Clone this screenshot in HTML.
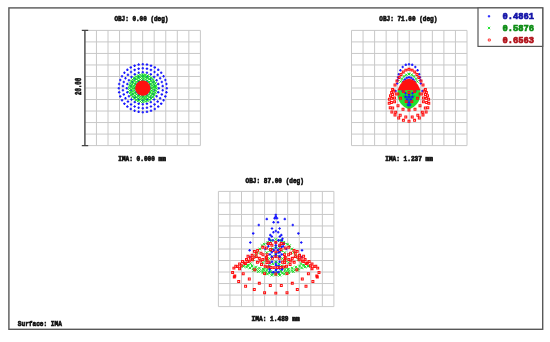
<!DOCTYPE html>
<html><head><meta charset="utf-8"><title>Spot Diagram</title>
<style>
html,body{margin:0;padding:0;background:#fff;}
svg{display:block;filter:blur(0.3px);}
text{font-family:"Liberation Mono",monospace;font-weight:bold;stroke-width:0.7;paint-order:stroke;}
</style></head>
<body>
<svg width="550" height="342" viewBox="0 0 550 342">
<rect width="550" height="342" fill="#fff"/>
<rect x="8.9" y="7.9" width="533.8" height="321.4" fill="none" stroke="#585858" stroke-width="1.4"/>
<rect x="478" y="7.9" width="64.7" height="38.5" fill="#fff" stroke="#585858" stroke-width="1.2"/>
<path d="M84.90 30.40V145.60M84.90 30.40H200.40M96.45 30.40V145.60M84.90 41.92H200.40M108.00 30.40V145.60M84.90 53.44H200.40M119.55 30.40V145.60M84.90 64.96H200.40M131.10 30.40V145.60M84.90 76.48H200.40M142.65 30.40V145.60M84.90 88.00H200.40M154.20 30.40V145.60M84.90 99.52H200.40M165.75 30.40V145.60M84.90 111.04H200.40M177.30 30.40V145.60M84.90 122.56H200.40M188.85 30.40V145.60M84.90 134.08H200.40M200.40 30.40V145.60M84.90 145.60H200.40" stroke="#c8c8c8" stroke-width="1" fill="none"/>
<path d="M84.9 30.4V145.6M81.8 30.4H88.2M81.8 145.6H88.2" stroke="#444" stroke-width="1.3" fill="none"/>
<path d="M141.55 84.20H144.05M142.80 82.95V85.45M138.09 86.20H140.59M139.34 84.95V87.45M138.09 90.20H140.59M139.34 88.95V91.45M141.55 92.20H144.05M142.80 90.95V93.45M145.01 90.20H147.51M146.26 88.95V91.45M145.01 86.20H147.51M146.26 84.95V87.45M141.55 80.20H144.05M142.80 78.95V81.45M137.55 81.27H140.05M138.80 80.02V82.52M134.62 84.20H137.12M135.87 82.95V85.45M133.55 88.20H136.05M134.80 86.95V89.45M134.62 92.20H137.12M135.87 90.95V93.45M137.55 95.13H140.05M138.80 93.88V96.38M141.55 96.20H144.05M142.80 94.95V97.45M145.55 95.13H148.05M146.80 93.88V96.38M148.48 92.20H150.98M149.73 90.95V93.45M149.55 88.20H152.05M150.80 86.95V89.45M148.48 84.20H150.98M149.73 82.95V85.45M145.55 81.27H148.05M146.80 80.02V82.52M141.55 76.20H144.05M142.80 74.95V77.45M137.45 76.92H139.95M138.70 75.67V78.17M133.84 79.01H136.34M135.09 77.76V80.26M131.16 82.20H133.66M132.41 80.95V83.45M129.73 86.12H132.23M130.98 84.87V87.37M129.73 90.28H132.23M130.98 89.03V91.53M131.16 94.20H133.66M132.41 92.95V95.45M133.84 97.39H136.34M135.09 96.14V98.64M137.45 99.48H139.95M138.70 98.23V100.73M141.55 100.20H144.05M142.80 98.95V101.45M145.65 99.48H148.15M146.90 98.23V100.73M149.26 97.39H151.76M150.51 96.14V98.64M151.94 94.20H154.44M153.19 92.95V95.45M153.37 90.28H155.87M154.62 89.03V91.53M153.37 86.12H155.87M154.62 84.87V87.37M151.94 82.20H154.44M153.19 80.95V83.45M149.26 79.01H151.76M150.51 77.76V80.26M145.65 76.92H148.15M146.90 75.67V78.17M141.55 72.20H144.05M142.80 70.95V73.45M137.41 72.75H139.91M138.66 71.50V74.00M133.55 74.34H136.05M134.80 73.09V75.59M130.24 76.89H132.74M131.49 75.64V78.14M127.69 80.20H130.19M128.94 78.95V81.45M126.10 84.06H128.60M127.35 82.81V85.31M125.55 88.20H128.05M126.80 86.95V89.45M126.10 92.34H128.60M127.35 91.09V93.59M127.69 96.20H130.19M128.94 94.95V97.45M130.24 99.51H132.74M131.49 98.26V100.76M133.55 102.06H136.05M134.80 100.81V103.31M137.41 103.65H139.91M138.66 102.40V104.90M141.55 104.20H144.05M142.80 102.95V105.45M145.69 103.65H148.19M146.94 102.40V104.90M149.55 102.06H152.05M150.80 100.81V103.31M152.86 99.51H155.36M154.11 98.26V100.76M155.41 96.20H157.91M156.66 94.95V97.45M157.00 92.34H159.50M158.25 91.09V93.59M157.55 88.20H160.05M158.80 86.95V89.45M157.00 84.06H159.50M158.25 82.81V85.31M155.41 80.20H157.91M156.66 78.95V81.45M152.86 76.89H155.36M154.11 75.64V78.14M149.55 74.34H152.05M150.80 73.09V75.59M145.69 72.75H148.19M146.94 71.50V74.00M141.55 68.20H144.05M142.80 66.95V69.45M137.39 68.64H139.89M138.64 67.39V69.89M133.42 69.93H135.92M134.67 68.68V71.18M129.79 72.02H132.29M131.04 70.77V73.27M126.69 74.82H129.19M127.94 73.57V76.07M124.23 78.20H126.73M125.48 76.95V79.45M122.53 82.02H125.03M123.78 80.77V83.27M121.66 86.11H124.16M122.91 84.86V87.36M121.66 90.29H124.16M122.91 89.04V91.54M122.53 94.38H125.03M123.78 93.13V95.63M124.23 98.20H126.73M125.48 96.95V99.45M126.69 101.58H129.19M127.94 100.33V102.83M129.79 104.38H132.29M131.04 103.13V105.63M133.42 106.47H135.92M134.67 105.22V107.72M137.39 107.76H139.89M138.64 106.51V109.01M141.55 108.20H144.05M142.80 106.95V109.45M145.71 107.76H148.21M146.96 106.51V109.01M149.68 106.47H152.18M150.93 105.22V107.72M153.31 104.38H155.81M154.56 103.13V105.63M156.41 101.58H158.91M157.66 100.33V102.83M158.87 98.20H161.37M160.12 96.95V99.45M160.57 94.38H163.07M161.82 93.13V95.63M161.44 90.29H163.94M162.69 89.04V91.54M161.44 86.11H163.94M162.69 84.86V87.36M160.57 82.02H163.07M161.82 80.77V83.27M158.87 78.20H161.37M160.12 76.95V79.45M156.41 74.82H158.91M157.66 73.57V76.07M153.31 72.02H155.81M154.56 70.77V73.27M149.68 69.93H152.18M150.93 68.68V71.18M145.71 68.64H148.21M146.96 67.39V69.89M141.55 64.20H144.05M142.80 62.95V65.45M137.38 64.56H139.88M138.63 63.31V65.81M133.34 65.65H135.84M134.59 64.40V66.90M129.55 67.42H132.05M130.80 66.17V68.67M126.12 69.81H128.62M127.37 68.56V71.06M123.16 72.77H125.66M124.41 71.52V74.02M120.77 76.20H123.27M122.02 74.95V77.45M119.00 79.99H121.50M120.25 78.74V81.24M117.91 84.03H120.41M119.16 82.78V85.28M117.55 88.20H120.05M118.80 86.95V89.45M117.91 92.37H120.41M119.16 91.12V93.62M119.00 96.41H121.50M120.25 95.16V97.66M120.77 100.20H123.27M122.02 98.95V101.45M123.16 103.63H125.66M124.41 102.38V104.88M126.12 106.59H128.62M127.37 105.34V107.84M129.55 108.98H132.05M130.80 107.73V110.23M133.34 110.75H135.84M134.59 109.50V112.00M137.38 111.84H139.88M138.63 110.59V113.09M141.55 112.20H144.05M142.80 110.95V113.45M145.72 111.84H148.22M146.97 110.59V113.09M149.76 110.75H152.26M151.01 109.50V112.00M153.55 108.98H156.05M154.80 107.73V110.23M156.98 106.59H159.48M158.23 105.34V107.84M159.94 103.63H162.44M161.19 102.38V104.88M162.33 100.20H164.83M163.58 98.95V101.45M164.10 96.41H166.60M165.35 95.16V97.66M165.19 92.37H167.69M166.44 91.12V93.62M165.55 88.20H168.05M166.80 86.95V89.45M165.19 84.03H167.69M166.44 82.78V85.28M164.10 79.99H166.60M165.35 78.74V81.24M162.33 76.20H164.83M163.58 74.95V77.45M159.94 72.77H162.44M161.19 71.52V74.02M156.98 69.81H159.48M158.23 68.56V71.06M153.55 67.42H156.05M154.80 66.17V68.67M149.76 65.65H152.26M151.01 64.40V66.90M145.72 64.56H148.22M146.97 63.31V65.81" stroke="#1818ff" stroke-width="1.15" fill="none"/>
<path d="M141.50 84.67L144.10 87.27M141.50 87.27L144.10 84.67M139.57 85.78L142.17 88.38M139.57 88.38L142.17 85.78M139.57 88.02L142.17 90.62M139.57 90.62L142.17 88.02M141.50 89.13L144.10 91.73M141.50 91.73L144.10 89.13M143.43 88.02L146.03 90.62M143.43 90.62L146.03 88.02M143.43 85.78L146.03 88.38M143.43 88.38L146.03 85.78M141.50 82.43L144.10 85.03M141.50 85.03L144.10 82.43M139.27 83.03L141.87 85.63M139.27 85.63L141.87 83.03M137.63 84.67L140.23 87.27M137.63 87.27L140.23 84.67M137.03 86.90L139.63 89.50M137.03 89.50L139.63 86.90M137.63 89.13L140.23 91.73M137.63 91.73L140.23 89.13M139.27 90.77L141.87 93.37M139.27 93.37L141.87 90.77M141.50 91.37L144.10 93.97M141.50 93.97L144.10 91.37M143.73 90.77L146.33 93.37M143.73 93.37L146.33 90.77M145.37 89.13L147.97 91.73M145.37 91.73L147.97 89.13M145.97 86.90L148.57 89.50M145.97 89.50L148.57 86.90M145.37 84.67L147.97 87.27M145.37 87.27L147.97 84.67M143.73 83.03L146.33 85.63M143.73 85.63L146.33 83.03M141.50 80.20L144.10 82.80M141.50 82.80L144.10 80.20M139.21 80.60L141.81 83.20M139.21 83.20L141.81 80.60M137.19 81.77L139.79 84.37M137.19 84.37L139.79 81.77M135.70 83.55L138.30 86.15M135.70 86.15L138.30 83.55M134.90 85.74L137.50 88.34M134.90 88.34L137.50 85.74M134.90 88.06L137.50 90.66M134.90 90.66L137.50 88.06M135.70 90.25L138.30 92.85M135.70 92.85L138.30 90.25M137.19 92.03L139.79 94.63M137.19 94.63L139.79 92.03M139.21 93.20L141.81 95.80M139.21 95.80L141.81 93.20M141.50 93.60L144.10 96.20M141.50 96.20L144.10 93.60M143.79 93.20L146.39 95.80M143.79 95.80L146.39 93.20M145.81 92.03L148.41 94.63M145.81 94.63L148.41 92.03M147.30 90.25L149.90 92.85M147.30 92.85L149.90 90.25M148.10 88.06L150.70 90.66M148.10 90.66L150.70 88.06M148.10 85.74L150.70 88.34M148.10 88.34L150.70 85.74M147.30 83.55L149.90 86.15M147.30 86.15L149.90 83.55M145.81 81.77L148.41 84.37M145.81 84.37L148.41 81.77M143.79 80.60L146.39 83.20M143.79 83.20L146.39 80.60M141.50 77.97L144.10 80.57M141.50 80.57L144.10 77.97M139.19 78.27L141.79 80.87M139.19 80.87L141.79 78.27M137.03 79.16L139.63 81.76M137.03 81.76L139.63 79.16M135.18 80.58L137.78 83.18M135.18 83.18L137.78 80.58M133.76 82.43L136.36 85.03M133.76 85.03L136.36 82.43M132.87 84.59L135.47 87.19M132.87 87.19L135.47 84.59M132.57 86.90L135.17 89.50M132.57 89.50L135.17 86.90M132.87 89.21L135.47 91.81M132.87 91.81L135.47 89.21M133.76 91.37L136.36 93.97M133.76 93.97L136.36 91.37M135.18 93.22L137.78 95.82M135.18 95.82L137.78 93.22M137.03 94.64L139.63 97.24M137.03 97.24L139.63 94.64M139.19 95.53L141.79 98.13M139.19 98.13L141.79 95.53M141.50 95.83L144.10 98.43M141.50 98.43L144.10 95.83M143.81 95.53L146.41 98.13M143.81 98.13L146.41 95.53M145.97 94.64L148.57 97.24M145.97 97.24L148.57 94.64M147.82 93.22L150.42 95.82M147.82 95.82L150.42 93.22M149.24 91.37L151.84 93.97M149.24 93.97L151.84 91.37M150.13 89.21L152.73 91.81M150.13 91.81L152.73 89.21M150.43 86.90L153.03 89.50M150.43 89.50L153.03 86.90M150.13 84.59L152.73 87.19M150.13 87.19L152.73 84.59M149.24 82.43L151.84 85.03M149.24 85.03L151.84 82.43M147.82 80.58L150.42 83.18M147.82 83.18L150.42 80.58M145.97 79.16L148.57 81.76M145.97 81.76L148.57 79.16M143.81 78.27L146.41 80.87M143.81 80.87L146.41 78.27M141.50 75.73L144.10 78.33M141.50 78.33L144.10 75.73M139.18 75.98L141.78 78.58M139.18 78.58L141.78 75.98M136.96 76.70L139.56 79.30M136.96 79.30L139.56 76.70M134.94 77.87L137.54 80.47M134.94 80.47L137.54 77.87M133.20 79.43L135.80 82.03M133.20 82.03L135.80 79.43M131.83 81.32L134.43 83.92M131.83 83.92L134.43 81.32M130.88 83.45L133.48 86.05M130.88 86.05L133.48 83.45M130.39 85.73L132.99 88.33M130.39 88.33L132.99 85.73M130.39 88.07L132.99 90.67M130.39 90.67L132.99 88.07M130.88 90.35L133.48 92.95M130.88 92.95L133.48 90.35M131.83 92.48L134.43 95.08M131.83 95.08L134.43 92.48M133.20 94.37L135.80 96.97M133.20 96.97L135.80 94.37M134.94 95.93L137.54 98.53M134.94 98.53L137.54 95.93M136.96 97.10L139.56 99.70M136.96 99.70L139.56 97.10M139.18 97.82L141.78 100.42M139.18 100.42L141.78 97.82M141.50 98.07L144.10 100.67M141.50 100.67L144.10 98.07M143.82 97.82L146.42 100.42M143.82 100.42L146.42 97.82M146.04 97.10L148.64 99.70M146.04 99.70L148.64 97.10M148.06 95.93L150.66 98.53M148.06 98.53L150.66 95.93M149.80 94.37L152.40 96.97M149.80 96.97L152.40 94.37M151.17 92.48L153.77 95.08M151.17 95.08L153.77 92.48M152.12 90.35L154.72 92.95M152.12 92.95L154.72 90.35M152.61 88.07L155.21 90.67M152.61 90.67L155.21 88.07M152.61 85.73L155.21 88.33M152.61 88.33L155.21 85.73M152.12 83.45L154.72 86.05M152.12 86.05L154.72 83.45M151.17 81.32L153.77 83.92M151.17 83.92L153.77 81.32M149.80 79.43L152.40 82.03M149.80 82.03L152.40 79.43M148.06 77.87L150.66 80.47M148.06 80.47L150.66 77.87M146.04 76.70L148.64 79.30M146.04 79.30L148.64 76.70M143.82 75.98L146.42 78.58M143.82 78.58L146.42 75.98M141.50 73.50L144.10 76.10M141.50 76.10L144.10 73.50M139.17 73.70L141.77 76.30M139.17 76.30L141.77 73.70M136.92 74.31L139.52 76.91M136.92 76.91L139.52 74.31M134.80 75.30L137.40 77.90M134.80 77.90L137.40 75.30M132.89 76.64L135.49 79.24M132.89 79.24L135.49 76.64M131.24 78.29L133.84 80.89M131.24 80.89L133.84 78.29M129.90 80.20L132.50 82.80M129.90 82.80L132.50 80.20M128.91 82.32L131.51 84.92M128.91 84.92L131.51 82.32M128.30 84.57L130.90 87.17M128.30 87.17L130.90 84.57M128.10 86.90L130.70 89.50M128.10 89.50L130.70 86.90M128.30 89.23L130.90 91.83M128.30 91.83L130.90 89.23M128.91 91.48L131.51 94.08M128.91 94.08L131.51 91.48M129.90 93.60L132.50 96.20M129.90 96.20L132.50 93.60M131.24 95.51L133.84 98.11M131.24 98.11L133.84 95.51M132.89 97.16L135.49 99.76M132.89 99.76L135.49 97.16M134.80 98.50L137.40 101.10M134.80 101.10L137.40 98.50M136.92 99.49L139.52 102.09M136.92 102.09L139.52 99.49M139.17 100.10L141.77 102.70M139.17 102.70L141.77 100.10M141.50 100.30L144.10 102.90M141.50 102.90L144.10 100.30M143.83 100.10L146.43 102.70M143.83 102.70L146.43 100.10M146.08 99.49L148.68 102.09M146.08 102.09L148.68 99.49M148.20 98.50L150.80 101.10M148.20 101.10L150.80 98.50M150.11 97.16L152.71 99.76M150.11 99.76L152.71 97.16M151.76 95.51L154.36 98.11M151.76 98.11L154.36 95.51M153.10 93.60L155.70 96.20M153.10 96.20L155.70 93.60M154.09 91.48L156.69 94.08M154.09 94.08L156.69 91.48M154.70 89.23L157.30 91.83M154.70 91.83L157.30 89.23M154.90 86.90L157.50 89.50M154.90 89.50L157.50 86.90M154.70 84.57L157.30 87.17M154.70 87.17L157.30 84.57M154.09 82.32L156.69 84.92M154.09 84.92L156.69 82.32M153.10 80.20L155.70 82.80M153.10 82.80L155.70 80.20M151.76 78.29L154.36 80.89M151.76 80.89L154.36 78.29M150.11 76.64L152.71 79.24M150.11 79.24L152.71 76.64M148.20 75.30L150.80 77.90M148.20 77.90L150.80 75.30M146.08 74.31L148.68 76.91M146.08 76.91L148.68 74.31M143.83 73.70L146.43 76.30M143.83 76.30L146.43 73.70" stroke="#10e020" stroke-width="0.95" fill="none"/>
<circle cx="142.8" cy="88.2" r="7.6" fill="#ff1010"/>
<text x="141.4" y="21.1" font-size="8.0" fill="#111" stroke="#111" text-anchor="middle" textLength="54" lengthAdjust="spacingAndGlyphs" >OBJ: 0.00 (deg)</text>
<text x="142.1" y="160.6" font-size="8.0" fill="#111" stroke="#111" text-anchor="middle" textLength="47.6" lengthAdjust="spacingAndGlyphs" >IMA: 0.000 mm</text>
<text transform="translate(81.4,86.4) rotate(-90)" font-size="9" fill="#111" stroke="#111" text-anchor="middle" textLength="17" lengthAdjust="spacingAndGlyphs">20.00</text>
<path d="M351.50 30.40V145.60M351.50 30.40H467.00M363.05 30.40V145.60M351.50 41.92H467.00M374.60 30.40V145.60M351.50 53.44H467.00M386.15 30.40V145.60M351.50 64.96H467.00M397.70 30.40V145.60M351.50 76.48H467.00M409.25 30.40V145.60M351.50 88.00H467.00M420.80 30.40V145.60M351.50 99.52H467.00M432.35 30.40V145.60M351.50 111.04H467.00M443.90 30.40V145.60M351.50 122.56H467.00M455.45 30.40V145.60M351.50 134.08H467.00M467.00 30.40V145.60M351.50 145.60H467.00" stroke="#c8c8c8" stroke-width="1" fill="none"/>
<text x="408.3" y="21.1" font-size="8.0" fill="#111" stroke="#111" text-anchor="middle" textLength="58" lengthAdjust="spacingAndGlyphs" >OBJ: 71.00 (deg)</text>
<text x="409.1" y="160.6" font-size="8.0" fill="#111" stroke="#111" text-anchor="middle" textLength="47.6" lengthAdjust="spacingAndGlyphs" >IMA: 1.237 mm</text>
<path d="M407.75 64.20H410.25M409.00 62.95V65.45M410.95 64.80H413.45M412.20 63.55V66.05M404.55 64.80H407.05M405.80 63.55V66.05M414.05 67.00H416.55M415.30 65.75V68.25M401.45 67.00H403.95M402.70 65.75V68.25M416.35 70.30H418.85M417.60 69.05V71.55M399.15 70.30H401.65M400.40 69.05V71.55M417.95 74.20H420.45M419.20 72.95V75.45M397.55 74.20H400.05M398.80 72.95V75.45M418.65 77.30H421.15M419.90 76.05V78.55M396.85 77.30H399.35M398.10 76.05V78.55M419.15 80.30H421.65M420.40 79.05V81.55M396.35 80.30H398.85M397.60 79.05V81.55M419.55 83.50H422.05M420.80 82.25V84.75M395.95 83.50H398.45M397.20 82.25V84.75M407.75 77.30H410.25M409.00 76.05V78.55M409.95 77.90H412.45M411.20 76.65V79.15M405.55 77.90H408.05M406.80 76.65V79.15M411.95 79.40H414.45M413.20 78.15V80.65M403.55 79.40H406.05M404.80 78.15V80.65M413.35 81.50H415.85M414.60 80.25V82.75M402.15 81.50H404.65M403.40 80.25V82.75M414.25 91.00H416.75M415.50 89.75V92.25M401.25 91.00H403.75M402.50 89.75V92.25M421.05 91.00H423.55M422.30 89.75V92.25M394.45 91.00H396.95M395.70 89.75V92.25M402.55 96.00H405.05M403.80 94.75V97.25M404.63 96.00H407.13M405.88 94.75V97.25M406.71 96.00H409.21M407.96 94.75V97.25M408.79 96.00H411.29M410.04 94.75V97.25M410.87 96.00H413.37M412.12 94.75V97.25M412.95 96.00H415.45M414.20 94.75V97.25M403.50 98.20H406.00M404.75 96.95V99.45M405.63 98.20H408.13M406.88 96.95V99.45M407.75 98.20H410.25M409.00 96.95V99.45M409.87 98.20H412.37M411.12 96.95V99.45M412.00 98.20H414.50M413.25 96.95V99.45M404.46 100.40H406.96M405.71 99.15V101.65M406.65 100.40H409.15M407.90 99.15V101.65M408.85 100.40H411.35M410.10 99.15V101.65M411.04 100.40H413.54M412.29 99.15V101.65M405.41 102.60H407.91M406.66 101.35V103.85M407.75 102.60H410.25M409.00 101.35V103.85M410.09 102.60H412.59M411.34 101.35V103.85M406.36 104.80H408.86M407.61 103.55V106.05M409.14 104.80H411.64M410.39 103.55V106.05M407.75 107.00H410.25M409.00 105.75V108.25" stroke="#1818ff" stroke-width="1.15" fill="none"/>
<path d="M404.4 95.6 L413.6 95.6 L409 107.6Z" fill="#1818ff" opacity="0.8"/>
<path d="M397.8 89.5 L397.7 96.5 Q398.6 102.5 403.5 106.3 Q407 109 409 109.4 Q411 109 414.5 106.3 Q419.4 102.5 420.3 96.5 L420.2 89.5Z" fill="#10e020" opacity="0.92"/>
<path d="M407.70 72.70L410.30 75.30M407.70 75.30L410.30 72.70M410.40 73.50L413.00 76.10M410.40 76.10L413.00 73.50M405.00 73.50L407.60 76.10M405.00 76.10L407.60 73.50M412.70 75.10L415.30 77.70M412.70 77.70L415.30 75.10M402.70 75.10L405.30 77.70M402.70 77.70L405.30 75.10M414.70 77.40L417.30 80.00M414.70 80.00L417.30 77.40M400.70 77.40L403.30 80.00M400.70 80.00L403.30 77.40M416.00 80.20L418.60 82.80M416.00 82.80L418.60 80.20M399.40 80.20L402.00 82.80M399.40 82.80L402.00 80.20" stroke="#10e020" stroke-width="0.95" fill="none"/>
<path d="M404.6 96 L413.4 96 L409 107.2Z" fill="#1818ff" opacity="0.5"/>
<path d="M404.25 96.80H406.75M405.50 95.55V98.05M407.75 96.80H410.25M409.00 95.55V98.05M411.25 96.80H413.75M412.50 95.55V98.05M405.75 99.80H408.25M407.00 98.55V101.05M409.75 99.80H412.25M411.00 98.55V101.05M407.75 102.60H410.25M409.00 101.35V103.85M406.75 105.00H409.25M408.00 103.75V106.25M408.75 105.00H411.25M410.00 103.75V106.25" stroke="#1818ff" stroke-width="1.15" fill="none"/>
<path d="M401.35 91.00H403.85M402.60 89.75V92.25M414.15 91.00H416.65M415.40 89.75V92.25M404.25 93.20H406.75M405.50 91.95V94.45M411.25 93.20H413.75M412.50 91.95V94.45M407.75 94.50H410.25M409.00 93.25V95.75" stroke="#1818ff" stroke-width="1.15" fill="none"/>
<path d="M397.5 90.2 Q399.5 84.5 403 81.3 Q406 78.8 409 78.8 Q412 78.8 415 81.3 Q418.5 84.5 420.5 90.2Z" fill="#ff1010"/>
<path d="M408.05 68.35h1.90v1.90h-1.90zM411.15 69.15h1.90v1.90h-1.90zM404.95 69.15h1.90v1.90h-1.90zM413.85 70.95h1.90v1.90h-1.90zM402.25 70.95h1.90v1.90h-1.90zM416.05 73.55h1.90v1.90h-1.90zM400.05 73.55h1.90v1.90h-1.90zM417.95 76.55h1.90v1.90h-1.90zM398.15 76.55h1.90v1.90h-1.90zM420.05 80.05h1.90v1.90h-1.90zM396.05 80.05h1.90v1.90h-1.90zM422.05 84.05h1.90v1.90h-1.90zM394.05 84.05h1.90v1.90h-1.90zM424.45 88.55h1.90v1.90h-1.90zM391.65 88.55h1.90v1.90h-1.90zM425.45 91.45h1.90v1.90h-1.90zM390.65 91.45h1.90v1.90h-1.90zM426.55 94.75h1.90v1.90h-1.90zM389.55 94.75h1.90v1.90h-1.90zM427.65 98.25h1.90v1.90h-1.90zM388.45 98.25h1.90v1.90h-1.90zM427.85 102.35h1.90v1.90h-1.90zM388.25 102.35h1.90v1.90h-1.90zM426.85 106.75h1.90v1.90h-1.90zM389.25 106.75h1.90v1.90h-1.90zM425.15 111.05h1.90v1.90h-1.90zM390.95 111.05h1.90v1.90h-1.90zM422.05 114.05h1.90v1.90h-1.90zM394.05 114.05h1.90v1.90h-1.90zM418.35 117.05h1.90v1.90h-1.90zM397.75 117.05h1.90v1.90h-1.90zM413.65 119.35h1.90v1.90h-1.90zM402.45 119.35h1.90v1.90h-1.90zM408.05 120.25h1.90v1.90h-1.90zM423.25 90.05h1.90v1.90h-1.90zM392.85 90.05h1.90v1.90h-1.90zM424.55 93.55h1.90v1.90h-1.90zM391.55 93.55h1.90v1.90h-1.90zM425.35 97.35h1.90v1.90h-1.90zM390.75 97.35h1.90v1.90h-1.90zM425.65 101.55h1.90v1.90h-1.90zM390.45 101.55h1.90v1.90h-1.90zM424.35 107.05h1.90v1.90h-1.90zM391.75 107.05h1.90v1.90h-1.90zM421.35 111.15h1.90v1.90h-1.90zM394.75 111.15h1.90v1.90h-1.90zM416.85 114.25h1.90v1.90h-1.90zM399.25 114.25h1.90v1.90h-1.90zM411.25 116.05h1.90v1.90h-1.90zM404.85 116.05h1.90v1.90h-1.90zM420.85 93.05h1.90v1.90h-1.90zM395.25 93.05h1.90v1.90h-1.90zM422.45 97.05h1.90v1.90h-1.90zM393.65 97.05h1.90v1.90h-1.90zM422.45 100.85h1.90v1.90h-1.90zM393.65 100.85h1.90v1.90h-1.90zM419.05 104.75h1.90v1.90h-1.90zM397.05 104.75h1.90v1.90h-1.90zM414.05 108.25h1.90v1.90h-1.90zM402.05 108.25h1.90v1.90h-1.90zM408.05 109.05h1.90v1.90h-1.90zM419.15 93.05h1.90v1.90h-1.90zM396.95 93.05h1.90v1.90h-1.90zM416.55 97.35h1.90v1.90h-1.90zM399.55 97.35h1.90v1.90h-1.90zM413.55 90.65h1.90v1.90h-1.90zM402.55 90.65h1.90v1.90h-1.90zM408.05 91.45h1.90v1.90h-1.90zM410.85 100.65h1.90v1.90h-1.90zM405.25 100.65h1.90v1.90h-1.90z" stroke="#ff1010" stroke-width="1.05" fill="none"/>
<path d="M218.40 191.40V306.60M218.40 191.40H333.90M229.95 191.40V306.60M218.40 202.92H333.90M241.50 191.40V306.60M218.40 214.44H333.90M253.05 191.40V306.60M218.40 225.96H333.90M264.60 191.40V306.60M218.40 237.48H333.90M276.15 191.40V306.60M218.40 249.00H333.90M287.70 191.40V306.60M218.40 260.52H333.90M299.25 191.40V306.60M218.40 272.04H333.90M310.80 191.40V306.60M218.40 283.56H333.90M322.35 191.40V306.60M218.40 295.08H333.90M333.90 191.40V306.60M218.40 306.60H333.90" stroke="#c8c8c8" stroke-width="1" fill="none"/>
<text x="274.7" y="182.7" font-size="8.0" fill="#111" stroke="#111" text-anchor="middle" textLength="58.4" lengthAdjust="spacingAndGlyphs" >OBJ: 87.00 (deg)</text>
<text x="275.6" y="320.8" font-size="8.0" fill="#111" stroke="#111" text-anchor="middle" textLength="48" lengthAdjust="spacingAndGlyphs" >IMA: 1.489 mm</text>
<path d="M274.55 214.90H277.05M275.80 213.65V216.15M274.55 216.60H277.05M275.80 215.35V217.85M274.55 218.00H277.05M275.80 216.75V219.25M275.85 218.20H278.35M277.10 216.95V219.45M273.25 218.20H275.75M274.50 216.95V219.45M283.55 219.10H286.05M284.80 217.85V220.35M265.55 219.10H268.05M266.80 217.85V220.35M291.55 225.00H294.05M292.80 223.75V226.25M257.55 225.00H260.05M258.80 223.75V226.25M297.15 233.40H299.65M298.40 232.15V234.65M251.95 233.40H254.45M253.20 232.15V234.65M300.05 242.50H302.55M301.30 241.25V243.75M249.05 242.50H251.55M250.30 241.25V243.75M300.75 250.30H303.25M302.00 249.05V251.55M248.35 250.30H250.85M249.60 249.05V251.55M300.55 257.00H303.05M301.80 255.75V258.25M248.55 257.00H251.05M249.80 255.75V258.25M276.75 222.30H279.25M278.00 221.05V223.55M272.35 222.30H274.85M273.60 221.05V223.55M278.35 228.50H280.85M279.60 227.25V229.75M270.75 228.50H273.25M272.00 227.25V229.75M280.05 235.10H282.55M281.30 233.85V236.35M269.05 235.10H271.55M270.30 233.85V236.35M281.25 238.70H283.75M282.50 237.45V239.95M267.85 238.70H270.35M269.10 237.45V239.95M283.05 243.50H285.55M284.30 242.25V244.75M266.05 243.50H268.55M267.30 242.25V244.75M285.05 249.00H287.55M286.30 247.75V250.25M264.05 249.00H266.55M265.30 247.75V250.25M274.55 231.00H277.05M275.80 229.75V232.25M276.95 232.20H279.45M278.20 230.95V233.45M272.15 232.20H274.65M273.40 230.95V233.45M278.55 236.50H281.05M279.80 235.25V237.75M270.55 236.50H273.05M271.80 235.25V237.75M279.55 240.50H282.05M280.80 239.25V241.75M269.55 240.50H272.05M270.80 239.25V241.75M268.20 239.84H270.70M269.45 238.59V241.09M277.17 240.40H279.67M278.42 239.15V241.65M280.63 240.59H283.13M281.88 239.34V241.84M274.72 242.78H277.22M275.97 241.53V244.03M278.06 246.51H280.56M279.31 245.26V247.76M280.39 246.84H282.89M281.64 245.59V248.09M275.07 253.25H277.57M276.32 252.00V254.50M277.31 252.46H279.81M278.56 251.21V253.71M274.56 255.86H277.06M275.81 254.61V257.11M277.85 256.10H280.35M279.10 254.85V257.35M268.58 262.96H271.08M269.83 261.71V264.21M274.81 262.05H277.31M276.06 260.80V263.30M267.63 266.02H270.13M268.88 264.77V267.27M274.91 265.49H277.41M276.16 264.24V266.74M277.50 265.92H280.00M278.75 264.67V267.17M268.29 268.25H270.79M269.54 267.00V269.50M275.01 269.38H277.51M276.26 268.13V270.63M278.35 268.57H280.85M279.60 267.32V269.82M281.07 268.24H283.57M282.32 266.99V269.49M268.04 272.13H270.54M269.29 270.88V273.38M270.80 272.44H273.30M272.05 271.19V273.69M275.10 272.48H277.60M276.35 271.23V273.73M277.70 272.02H280.20M278.95 270.77V273.27" stroke="#1818ff" stroke-width="1.15" fill="none"/>
<path d="M274.50 238.20L277.10 240.80M274.50 240.80L277.10 238.20M278.50 239.20L281.10 241.80M278.50 241.80L281.10 239.20M270.50 239.20L273.10 241.80M270.50 241.80L273.10 239.20M282.50 241.00L285.10 243.60M282.50 243.60L285.10 241.00M266.50 241.00L269.10 243.60M266.50 243.60L269.10 241.00M286.00 242.90L288.60 245.50M286.00 245.50L288.60 242.90M263.00 242.90L265.60 245.50M263.00 245.50L265.60 242.90M288.30 244.30L290.90 246.90M288.30 246.90L290.90 244.30M260.70 244.30L263.30 246.90M260.70 246.90L263.30 244.30M290.50 247.70L293.10 250.30M290.50 250.30L293.10 247.70M258.50 247.70L261.10 250.30M258.50 250.30L261.10 247.70M292.50 251.20L295.10 253.80M292.50 253.80L295.10 251.20M256.50 251.20L259.10 253.80M256.50 253.80L259.10 251.20M294.50 254.20L297.10 256.80M294.50 256.80L297.10 254.20M254.50 254.20L257.10 256.80M254.50 256.80L257.10 254.20M297.00 258.20L299.60 260.80M297.00 260.80L299.60 258.20M252.00 258.20L254.60 260.80M252.00 260.80L254.60 258.20M299.70 262.30L302.30 264.90M299.70 264.90L302.30 262.30M249.30 262.30L251.90 264.90M249.30 264.90L251.90 262.30M303.00 264.00L305.60 266.60M303.00 266.60L305.60 264.00M246.00 264.00L248.60 266.60M246.00 266.60L248.60 264.00M306.80 264.90L309.40 267.50M306.80 267.50L309.40 264.90M242.20 264.90L244.80 267.50M242.20 267.50L244.80 264.90M306.80 264.90L309.40 267.50M306.80 267.50L309.40 264.90M242.20 264.90L244.80 267.50M242.20 267.50L244.80 264.90M303.57 265.77L306.17 268.37M303.57 268.37L306.17 265.77M245.43 265.77L248.03 268.37M245.43 268.37L248.03 265.77M300.34 266.64L302.94 269.24M300.34 269.24L302.94 266.64M248.66 266.64L251.26 269.24M248.66 269.24L251.26 266.64M297.11 267.51L299.71 270.11M297.11 270.11L299.71 267.51M251.89 267.51L254.49 270.11M251.89 270.11L254.49 267.51M293.88 268.38L296.48 270.98M293.88 270.98L296.48 268.38M255.12 268.38L257.72 270.98M255.12 270.98L257.72 268.38M290.65 269.25L293.25 271.85M290.65 271.85L293.25 269.25M258.35 269.25L260.95 271.85M258.35 271.85L260.95 269.25M287.42 270.12L290.02 272.72M287.42 272.72L290.02 270.12M261.58 270.12L264.18 272.72M261.58 272.72L264.18 270.12M284.19 270.99L286.79 273.59M284.19 273.59L286.79 270.99M264.81 270.99L267.41 273.59M264.81 273.59L267.41 270.99M280.96 271.86L283.56 274.46M280.96 274.46L283.56 271.86M268.04 271.86L270.64 274.46M268.04 274.46L270.64 271.86M277.73 272.73L280.33 275.33M277.73 275.33L280.33 272.73M271.27 272.73L273.87 275.33M271.27 275.33L273.87 272.73M274.50 273.60L277.10 276.20M274.50 276.20L277.10 273.60M302.00 263.70L304.60 266.30M302.00 266.30L304.60 263.70M247.00 263.70L249.60 266.30M247.00 266.30L249.60 263.70M298.30 264.73L300.90 267.33M298.30 267.33L300.90 264.73M250.70 264.73L253.30 267.33M250.70 267.33L253.30 264.73M294.60 265.76L297.20 268.36M294.60 268.36L297.20 265.76M254.40 265.76L257.00 268.36M254.40 268.36L257.00 265.76M290.90 266.79L293.50 269.39M290.90 269.39L293.50 266.79M258.10 266.79L260.70 269.39M258.10 269.39L260.70 266.79M287.20 267.81L289.80 270.41M287.20 270.41L289.80 267.81M261.80 267.81L264.40 270.41M261.80 270.41L264.40 267.81M283.50 268.84L286.10 271.44M283.50 271.44L286.10 268.84M265.50 268.84L268.10 271.44M265.50 271.44L268.10 268.84M279.80 269.87L282.40 272.47M279.80 272.47L282.40 269.87M269.20 269.87L271.80 272.47M269.20 272.47L271.80 269.87M276.10 270.90L278.70 273.50M276.10 273.50L278.70 270.90M272.90 270.90L275.50 273.50M272.90 273.50L275.50 270.90M296.50 269.10L299.10 271.70M296.50 271.70L299.10 269.10M252.50 269.10L255.10 271.70M252.50 271.70L255.10 269.10M292.00 270.30L294.60 272.90M292.00 272.90L294.60 270.30M257.00 270.30L259.60 272.90M257.00 272.90L259.60 270.30M287.50 271.50L290.10 274.10M287.50 274.10L290.10 271.50M261.50 271.50L264.10 274.10M261.50 274.10L264.10 271.50M283.00 272.70L285.60 275.30M283.00 275.30L285.60 272.70M266.00 272.70L268.60 275.30M266.00 275.30L268.60 272.70M278.50 273.90L281.10 276.50M278.50 276.50L281.10 273.90M270.50 273.90L273.10 276.50M270.50 276.50L273.10 273.90M274.50 245.70L277.10 248.30M274.50 248.30L277.10 245.70M277.50 247.56L280.10 250.16M277.50 250.16L280.10 247.56M271.50 247.56L274.10 250.16M271.50 250.16L274.10 247.56M280.50 249.42L283.10 252.02M280.50 252.02L283.10 249.42M268.50 249.42L271.10 252.02M268.50 252.02L271.10 249.42M283.50 251.28L286.10 253.88M283.50 253.88L286.10 251.28M265.50 251.28L268.10 253.88M265.50 253.88L268.10 251.28M274.50 253.20L277.10 255.80M274.50 255.80L277.10 253.20M277.75 255.21L280.35 257.81M277.75 257.81L280.35 255.21M271.25 255.21L273.85 257.81M271.25 257.81L273.85 255.21M281.00 257.23L283.60 259.83M281.00 259.83L283.60 257.23M268.00 257.23L270.60 259.83M268.00 259.83L270.60 257.23M284.25 259.25L286.85 261.85M284.25 261.85L286.85 259.25M264.75 259.25L267.35 261.85M264.75 261.85L267.35 259.25M287.50 261.26L290.10 263.86M287.50 263.86L290.10 261.26M261.50 261.26L264.10 263.86M261.50 263.86L264.10 261.26M274.50 260.70L277.10 263.30M274.50 263.30L277.10 260.70M277.50 262.56L280.10 265.16M277.50 265.16L280.10 262.56M271.50 262.56L274.10 265.16M271.50 265.16L274.10 262.56M280.50 264.42L283.10 267.02M280.50 267.02L283.10 264.42M268.50 264.42L271.10 267.02M268.50 267.02L271.10 264.42M283.50 266.28L286.10 268.88M283.50 268.88L286.10 266.28M265.50 266.28L268.10 268.88M265.50 268.88L268.10 266.28M286.50 268.14L289.10 270.74M286.50 270.74L289.10 268.14M262.50 268.14L265.10 270.74M262.50 270.74L265.10 268.14" stroke="#10e020" stroke-width="0.95" fill="none"/>
<path d="M318.05 271.45h1.90v1.90h-1.90zM231.65 271.45h1.90v1.90h-1.90zM316.75 267.15h1.90v1.90h-1.90zM232.95 267.15h1.90v1.90h-1.90zM314.85 265.25h1.90v1.90h-1.90zM234.85 265.25h1.90v1.90h-1.90zM311.05 263.05h1.90v1.90h-1.90zM238.65 263.05h1.90v1.90h-1.90zM308.15 260.55h1.90v1.90h-1.90zM241.55 260.55h1.90v1.90h-1.90zM304.15 258.45h1.90v1.90h-1.90zM245.55 258.45h1.90v1.90h-1.90zM302.65 255.25h1.90v1.90h-1.90zM247.05 255.25h1.90v1.90h-1.90zM298.55 254.35h1.90v1.90h-1.90zM251.15 254.35h1.90v1.90h-1.90zM296.25 250.45h1.90v1.90h-1.90zM253.45 250.45h1.90v1.90h-1.90zM293.05 249.45h1.90v1.90h-1.90zM256.65 249.45h1.90v1.90h-1.90zM287.85 246.35h1.90v1.90h-1.90zM261.85 246.35h1.90v1.90h-1.90zM284.25 247.05h1.90v1.90h-1.90zM265.45 247.05h1.90v1.90h-1.90zM311.05 267.85h1.90v1.90h-1.90zM238.65 267.85h1.90v1.90h-1.90zM305.25 262.65h1.90v1.90h-1.90zM244.45 262.65h1.90v1.90h-1.90zM301.35 260.15h1.90v1.90h-1.90zM248.35 260.15h1.90v1.90h-1.90zM298.15 258.85h1.90v1.90h-1.90zM251.55 258.85h1.90v1.90h-1.90zM294.35 255.65h1.90v1.90h-1.90zM255.35 255.65h1.90v1.90h-1.90zM293.25 261.35h1.90v1.90h-1.90zM256.45 261.35h1.90v1.90h-1.90zM289.15 263.55h1.90v1.90h-1.90zM260.55 263.55h1.90v1.90h-1.90zM287.85 258.45h1.90v1.90h-1.90zM261.85 258.45h1.90v1.90h-1.90zM295.85 268.75h1.90v1.90h-1.90zM253.85 268.75h1.90v1.90h-1.90zM286.05 272.65h1.90v1.90h-1.90zM263.65 272.65h1.90v1.90h-1.90zM274.85 273.05h1.90v1.90h-1.90zM289.65 252.25h1.90v1.90h-1.90zM260.05 252.25h1.90v1.90h-1.90zM284.35 256.55h1.90v1.90h-1.90zM265.35 256.55h1.90v1.90h-1.90zM283.65 259.85h1.90v1.90h-1.90zM266.05 259.85h1.90v1.90h-1.90zM282.45 242.65h1.90v1.90h-1.90zM267.25 242.65h1.90v1.90h-1.90zM280.25 242.55h1.90v1.90h-1.90zM269.45 242.55h1.90v1.90h-1.90zM278.75 244.25h1.90v1.90h-1.90zM270.95 244.25h1.90v1.90h-1.90zM274.85 241.45h1.90v1.90h-1.90zM281.65 261.25h1.90v1.90h-1.90zM268.05 261.25h1.90v1.90h-1.90zM285.55 265.25h1.90v1.90h-1.90zM264.15 265.25h1.90v1.90h-1.90zM282.65 266.05h1.90v1.90h-1.90zM267.05 266.05h1.90v1.90h-1.90zM279.75 266.55h1.90v1.90h-1.90zM269.95 266.55h1.90v1.90h-1.90zM276.55 266.65h1.90v1.90h-1.90zM273.15 266.65h1.90v1.90h-1.90zM283.45 253.65h1.90v1.90h-1.90zM266.25 253.65h1.90v1.90h-1.90zM274.85 250.95h1.90v1.90h-1.90zM278.25 257.35h1.90v1.90h-1.90zM271.45 257.35h1.90v1.90h-1.90zM274.85 255.55h1.90v1.90h-1.90zM278.15 249.55h1.90v1.90h-1.90zM271.55 249.55h1.90v1.90h-1.90zM313.25 265.65h1.90v1.90h-1.90zM236.45 265.65h1.90v1.90h-1.90zM309.45 264.85h1.90v1.90h-1.90zM240.25 264.85h1.90v1.90h-1.90zM306.45 262.05h1.90v1.90h-1.90zM243.25 262.05h1.90v1.90h-1.90zM302.85 260.55h1.90v1.90h-1.90zM246.85 260.55h1.90v1.90h-1.90zM300.25 257.05h1.90v1.90h-1.90zM249.45 257.05h1.90v1.90h-1.90zM296.65 256.05h1.90v1.90h-1.90zM253.05 256.05h1.90v1.90h-1.90zM294.35 252.45h1.90v1.90h-1.90zM255.35 252.45h1.90v1.90h-1.90zM280.05 248.55h1.90v1.90h-1.90zM269.65 248.55h1.90v1.90h-1.90zM284.15 257.25h1.90v1.90h-1.90zM265.55 257.25h1.90v1.90h-1.90zM287.65 253.75h1.90v1.90h-1.90zM262.05 253.75h1.90v1.90h-1.90zM289.95 260.15h1.90v1.90h-1.90zM259.75 260.15h1.90v1.90h-1.90zM283.75 261.65h1.90v1.90h-1.90zM265.95 261.65h1.90v1.90h-1.90zM291.35 257.35h1.90v1.90h-1.90zM258.35 257.35h1.90v1.90h-1.90zM274.85 292.15h1.90v1.90h-1.90zM286.05 291.75h1.90v1.90h-1.90zM263.65 291.75h1.90v1.90h-1.90zM296.35 288.55h1.90v1.90h-1.90zM253.35 288.55h1.90v1.90h-1.90zM305.05 285.25h1.90v1.90h-1.90zM244.65 285.25h1.90v1.90h-1.90zM311.95 280.55h1.90v1.90h-1.90zM237.75 280.55h1.90v1.90h-1.90zM316.35 275.95h1.90v1.90h-1.90zM233.35 275.95h1.90v1.90h-1.90zM280.35 284.55h1.90v1.90h-1.90zM269.35 284.55h1.90v1.90h-1.90zM291.35 282.35h1.90v1.90h-1.90zM258.35 282.35h1.90v1.90h-1.90zM301.35 278.05h1.90v1.90h-1.90zM248.35 278.05h1.90v1.90h-1.90zM307.45 272.75h1.90v1.90h-1.90zM242.25 272.75h1.90v1.90h-1.90zM315.85 275.05h1.90v1.90h-1.90zM233.85 275.05h1.90v1.90h-1.90z" stroke="#ff1010" stroke-width="1.05" fill="none"/>
<path d="M274.55 245.30H277.05M275.80 244.05V246.55M274.55 248.00H277.05M275.80 246.75V249.25M276.55 250.10H279.05M277.80 248.85V251.35M272.55 250.10H275.05M273.80 248.85V251.35M278.55 252.20H281.05M279.80 250.95V253.45M270.55 252.20H273.05M271.80 250.95V253.45M280.45 254.40H282.95M281.70 253.15V255.65M268.65 254.40H271.15M269.90 253.15V255.65M277.35 240.20H279.85M278.60 238.95V241.45M271.75 240.20H274.25M273.00 238.95V241.45M274.55 254.50H277.05M275.80 253.25V255.75M278.45 256.60H280.95M279.70 255.35V257.85M270.65 256.60H273.15M271.90 255.35V257.85M278.35 261.80H280.85M279.60 260.55V263.05M270.75 261.80H273.25M272.00 260.55V263.05M274.55 264.00H277.05M275.80 262.75V265.25M274.55 270.20H277.05M275.80 268.95V271.45M276.75 272.20H279.25M278.00 270.95V273.45M272.35 272.20H274.85M273.60 270.95V273.45M281.95 246.20H284.45M283.20 244.95V247.45M267.15 246.20H269.65M268.40 244.95V247.45M280.75 269.60H283.25M282.00 268.35V270.85M268.35 269.60H270.85M269.60 268.35V270.85" stroke="#1818ff" stroke-width="1.15" fill="none"/>
<text x="17.8" y="325.6" font-size="8.0" fill="#111" stroke="#111" text-anchor="start" textLength="44.0" lengthAdjust="spacingAndGlyphs" >Surface: IMA</text>
<path d="M487.80 16.20H490.20M489.00 15.00V17.40" stroke="#1818ff" stroke-width="1.1"/>
<path d="M487.80 26.80L490.20 29.20M487.80 29.20L490.20 26.80" stroke="#10e020" stroke-width="0.9"/>
<path d="M488.30 39.00h2.00v2.00h-2.00z" stroke="#ff1010" stroke-width="0.8" fill="none"/>
<text x="502.5" y="19.2" font-size="9" fill="#1414a8" stroke="#1414a8" stroke-width="0.3" textLength="31.5" lengthAdjust="spacingAndGlyphs">0.4861</text>
<text x="502.5" y="31" font-size="9" fill="#0c8c14" stroke="#0c8c14" stroke-width="0.3" textLength="31.5" lengthAdjust="spacingAndGlyphs">0.5876</text>
<text x="502.5" y="42.8" font-size="9" fill="#b01018" stroke="#b01018" stroke-width="0.3" textLength="31.5" lengthAdjust="spacingAndGlyphs">0.6563</text>
</svg>
</body></html>
